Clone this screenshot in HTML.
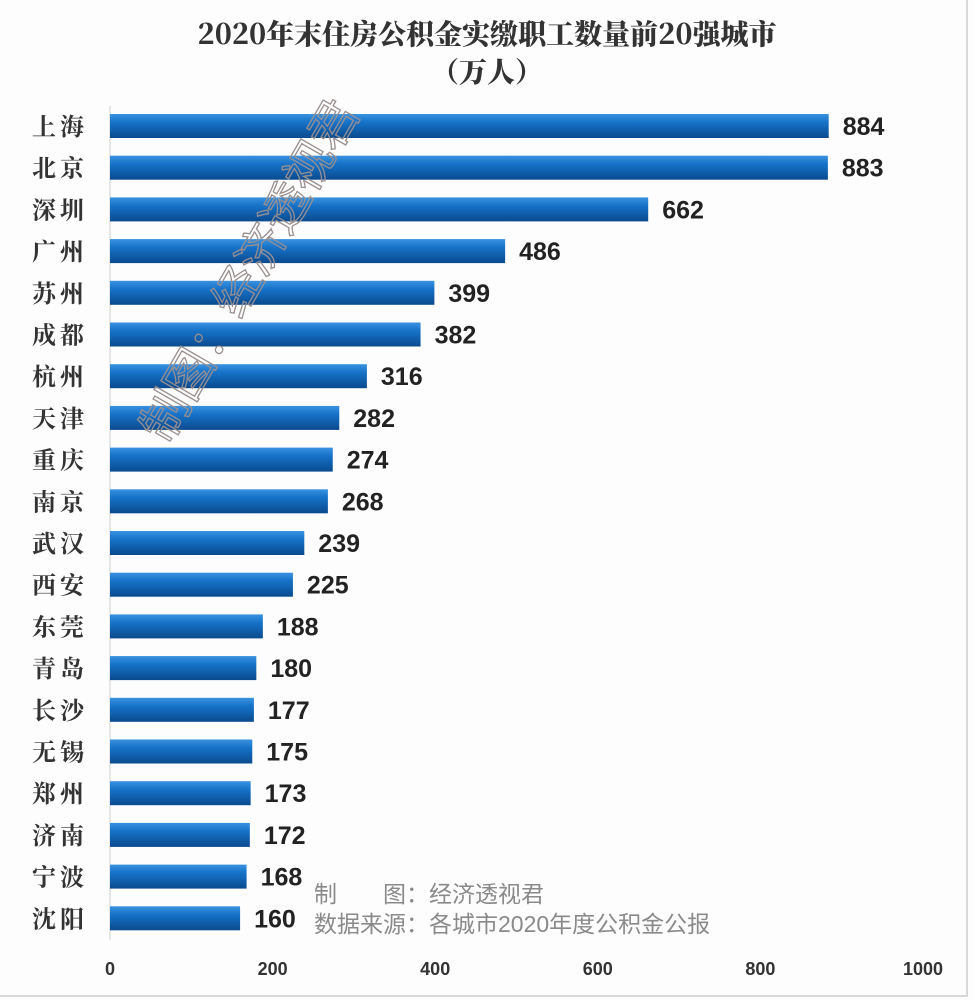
<!DOCTYPE html>
<html><head><meta charset="utf-8"><style>
body{margin:0;background:#fff;}
svg{display:block;font-family:"Liberation Sans","Noto Sans CJK SC",sans-serif;}
</style></head><body>
<svg width="974" height="1000" viewBox="0 0 974 1000">
<defs>
<linearGradient id="g" x1="0" y1="0" x2="0" y2="1">
<stop offset="0" stop-color="#3a92e0"/><stop offset="0.35" stop-color="#1672c8"/><stop offset="1" stop-color="#0a4a8e"/>
</linearGradient>
</defs>
<rect x="0" y="0" width="974" height="1000" fill="#fdfdfd"/>
<line x1="967" y1="0" x2="967" y2="996" stroke="#d8d8d8" stroke-width="2"/>
<line x1="0" y1="996" x2="968" y2="996" stroke="#d8d8d8" stroke-width="2"/>
<text x="487" y="44" text-anchor="middle" font-size="28" font-weight="900" fill="#333" font-family="'Noto Serif CJK SC','Liberation Serif',serif">2020年末住房公积金实缴职工数量前20强城市</text>
<text x="487" y="82" text-anchor="middle" font-size="28" font-weight="900" fill="#333" font-family="'Noto Serif CJK SC','Liberation Serif',serif">（万人）</text>
<line x1="110" y1="106" x2="110" y2="940" stroke="#d0d0d0"/>
<g id="bars"></g>
<g id="xticks"></g>
<text x="168" y="445" font-size="48" fill="none" stroke="#9a8f8f" stroke-width="1.3" transform="rotate(-60 168 445)">制图：经济透视君</text>
<text x="314" y="902" font-size="23" fill="#8a8a8a">制　　图：经济透视君</text>
<text x="314" y="932" font-size="23" fill="#8a8a8a">数据来源：各城市2020年度公积金公报</text>
</svg>
<script>
const cities=["上海","北京","深圳","广州","苏州","成都","杭州","天津","重庆","南京","武汉","西安","东莞","青岛","长沙","无锡","郑州","济南","宁波","沈阳"];
const values=[884,883,662,486,399,382,316,282,274,268,239,225,188,180,177,175,173,172,168,160];
const ticks=[0,200,400,600,800,1000];
const NS="http://www.w3.org/2000/svg";
const x=v=>110+v*0.813;
const yc=i=>126+i*41.7;
const bars=document.getElementById('bars');
function mk(t,a,p){const e=document.createElementNS(NS,t);for(const k in a)e.setAttribute(k,a[k]);p.appendChild(e);return e;}
cities.forEach((c,i)=>{
 const r=mk('rect',{x:110,y:yc(i)-12,width:x(values[i])-110,height:24,fill:'url(#g)'},bars);
 
 
 const l=mk('text',{x:88,y:yc(i)+9,'text-anchor':'end','font-size':24,'font-weight':'bold',fill:'#333','font-family':"'Noto Serif CJK SC',serif",'letter-spacing':'4'},bars);
 l.textContent=c;
 
 
 const v=mk('text',{x:x(values[i])+14,y:yc(i)+9,'font-size':25,'font-weight':'bold',fill:'#222'},bars);
 v.textContent=values[i];
 
 
});
const xt=document.getElementById('xticks');
ticks.forEach(t=>{
 const e=mk('text',{x:x(t),y:975,'text-anchor':'middle','font-size':18,'font-weight':'bold',fill:'#333'},xt);
 e.textContent=t;
 
 
});
</script>
</body></html>
